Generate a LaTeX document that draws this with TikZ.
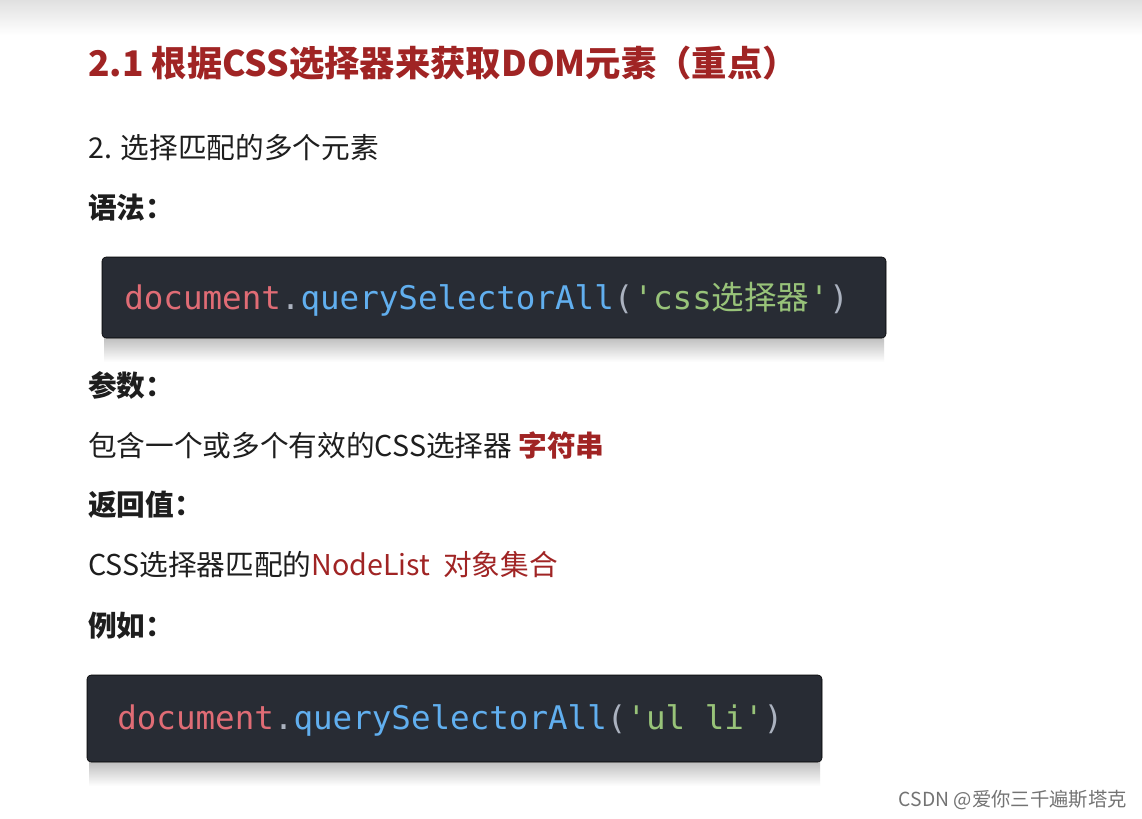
\documentclass[tikz,border=0pt]{standalone}
\usepackage{fontspec}
\setmainfont{Noto Sans CJK SC}
\newfontfamily\cjk{Noto Sans CJK SC}
\newfontfamily\codef{DejaVu Sans Mono}
\definecolor{titred}{RGB}{160,36,36}
\definecolor{txt}{RGB}{30,30,30}
\definecolor{codebg}{RGB}{40,44,52}
\definecolor{cred}{RGB}{224,108,117}
\definecolor{cblue}{RGB}{97,175,239}
\definecolor{cgray}{RGB}{171,178,191}
\definecolor{cgreen}{RGB}{152,195,121}
\begin{document}
\begin{tikzpicture}[x=0.75pt,y=-0.75pt,
  body/.style={anchor=west,inner sep=0,text=txt,font=\fontsize{21.5}{26}\selectfont},
  bhead/.style={body,font=\fontsize{21.5}{26}\selectfont\bfseries},
  code/.style={anchor=west,inner sep=0,font=\codef\fontsize{24.4}{28}\selectfont},
  codebox/.style={fill=codebg,rounded corners=3pt}]
\useasboundingbox (0,0) rectangle (1142,818);
\fill[white] (0,0) rectangle (1142,818);
\shade[top color=black!12,bottom color=white] (0,0) rectangle (1142,35);
\node[anchor=west,inner sep=0,text=titred,font=\fontsize{26.5}{30}\selectfont\bfseries] (title) at (88,63) {2.1 根据CSS选择器来获取DOM元素（重点）};
\node[body] (sub) at (88,148) {2. 选择匹配的多个元素};
\node[bhead] (syn) at (88,208) {语法：};
\shade[top color=black!25,bottom color=white] (104,338) rectangle (884,362);
\draw[codebox] (102,257) rectangle (886,338);
\node[code] (c1) at (124,299) {\textcolor{cred}{document}\textcolor{cgray}{.}\textcolor{cblue}{querySelectorAll}\textcolor{cgray}{(}\textcolor{cgreen}{'css{\cjk 选择器}'}\textcolor{cgray}{)}};
\node[bhead] (par) at (88,385) {参数：};
\node[body] (pard) at (88,445) {包含一个或多个有效的CSS选择器 \textcolor{titred}{\bfseries 字符串}};
\node[bhead] (ret) at (88,505) {返回值：};
\node[body] (retd) at (88,565) {CSS选择器匹配的\textcolor{titred}{NodeList\ \ 对象集合}};
\node[bhead] (ex) at (88,626) {例如：};
\shade[top color=black!25,bottom color=white] (89,762) rectangle (820,786);
\draw[codebox] (87,675) rectangle (822,762);
\node[code] (c2) at (117,720) {\textcolor{cred}{document}\textcolor{cgray}{.}\textcolor{cblue}{querySelectorAll}\textcolor{cgray}{(}\textcolor{cgreen}{'ul li'}\textcolor{cgray}{)}};
\node[anchor=east,inner sep=0,text=black!55,font=\fontsize{14.5}{17}\selectfont] (wm) at (1127,800) {CSDN @爱你三千遍斯塔克};
\end{tikzpicture}
\end{document}
